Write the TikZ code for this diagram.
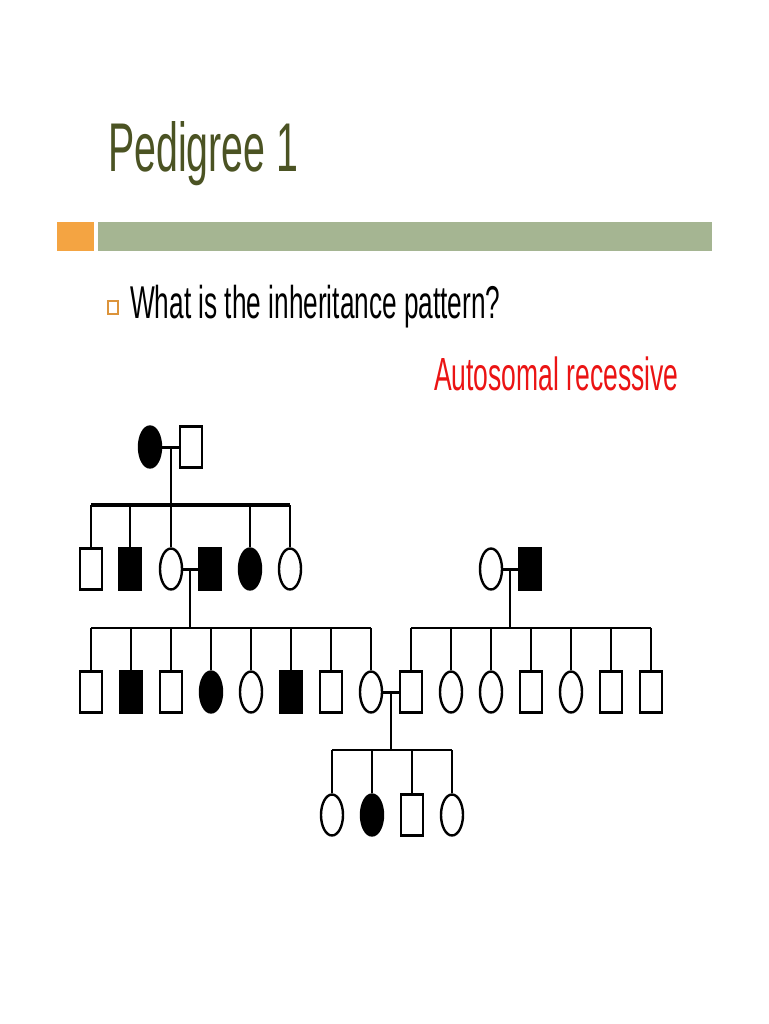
\documentclass[tikz,border=0pt]{standalone}
\usepackage{fontspec}
\usetikzlibrary{shapes.geometric}
\newfontfamily\slidefont[FakeStretch=0.57]{Liberation Sans}
\definecolor{titlecol}{RGB}{75,83,35}
\definecolor{barorange}{RGB}{244,164,66}
\definecolor{bargreen}{RGB}{165,181,146}
\definecolor{ansred}{RGB}{235,20,20}
\begin{document}
\begin{tikzpicture}[x=1pt,y=-1pt,
  male/.style={draw,rectangle,minimum width=22pt,minimum height=41pt,inner sep=0pt,line width=2.4pt},
  female/.style={draw,ellipse,minimum width=22pt,minimum height=41pt,inner sep=0pt,line width=2.4pt},
  aff/.style={fill=black},
  mate/.style={line width=3pt},
  sibline/.style={line width=2.8pt},
  drop/.style={line width=2.2pt},
  txt/.style={inner sep=0pt,anchor=base west}]
\useasboundingbox (0,0) rectangle (768,1024);
% header
\node[txt,text=titlecol] (title) at (108,172) {\slidefont\fontsize{69}{76}\selectfont Pedigree 1};
\fill[barorange] (57,222) rectangle (94,251);
\fill[bargreen] (98,222) rectangle (712,251);
\draw[barorange!90!black,line width=2pt] (108,301) rectangle (118,314);
\node[txt] (q) at (130,318) {\slidefont\fontsize{46}{52}\selectfont What is the inheritance pattern?};
\node[txt,text=ansred] (ans) at (434,390) {\slidefont\fontsize{46.5}{52}\selectfont Autosomal recessive};
% Generation I
\node[female,aff] (i1) at (150,447) {};
\node[male] (i2) at (191,447) {};
\draw[mate] (i1.east) -- (i2.west);
\coordinate (mI) at (171,447);
\coordinate (sI) at (171,505);
% Generation II (left)
\node[male] (a1) at (91,569) {};
\node[male,aff] (a2) at (130,569) {};
\node[female] (a3) at (171,569) {};
\node[male,aff] (a4) at (210,569) {};
\node[female,aff] (a5) at (250,569) {};
\node[female] (a6) at (290,569) {};
\draw[drop] (mI) -- (sI);
\draw[line width=3.6pt] (a1.north |- sI) -- (a6.north |- sI);
\foreach \c in {a1,a2,a3,a5,a6} \draw[drop] (\c.north) -- (\c.north |- sI);
\draw[mate] (a3.east) -- (a4.west);
\coordinate (mII) at (190,569);
\coordinate (sII) at (190,628);
% Generation II (right)
\node[female] (b1) at (491,569) {};
\node[male,aff] (b2) at (530,569) {};
\draw[mate] (b1.east) -- (b2.west);
\coordinate (mIIb) at (510,569);
\coordinate (sIIb) at (510,628);
% Generation III (left)
\node[male] (c1) at (91,692) {};
\node[male,aff] (c2) at (131,692) {};
\node[male] (c3) at (171,692) {};
\node[female,aff] (c4) at (211,692) {};
\node[female] (c5) at (251,692) {};
\node[male,aff] (c6) at (291,692) {};
\node[male] (c7) at (331,692) {};
\node[female] (c8) at (371,692) {};
\draw[drop] (mII) -- (sII);
\draw[sibline] (c1.north |- sII) -- (c8.north |- sII);
\foreach \c in {c1,c2,c3,c4,c5,c6,c7,c8} \draw[drop] (\c.north) -- (\c.north |- sII);
% Generation III (right)
\node[male] (d1) at (411,692) {};
\node[female] (d2) at (451,692) {};
\node[female] (d3) at (491,692) {};
\node[male] (d4) at (531,692) {};
\node[female] (d5) at (571,692) {};
\node[male] (d6) at (611,692) {};
\node[male] (d7) at (651,692) {};
\draw[drop] (mIIb) -- (sIIb);
\draw[sibline] (d1.north |- sIIb) -- (d7.north |- sIIb);
\foreach \c in {d1,d2,d3,d4,d5,d6,d7} \draw[drop] (\c.north) -- (\c.north |- sIIb);
\draw[mate] (c8.east) -- (d1.west);
\coordinate (mIII) at (391,692);
\coordinate (sIII) at (391,750);
% Generation IV
\node[female] (e1) at (332,815) {};
\node[female,aff] (e2) at (372,815) {};
\node[male] (e3) at (412,815) {};
\node[female] (e4) at (452,815) {};
\draw[drop] (mIII) -- (sIII);
\draw[sibline] (e1.north |- sIII) -- (e4.north |- sIII);
\foreach \c in {e1,e2,e3,e4} \draw[drop] (\c.north) -- (\c.north |- sIII);
\end{tikzpicture}
\end{document}
